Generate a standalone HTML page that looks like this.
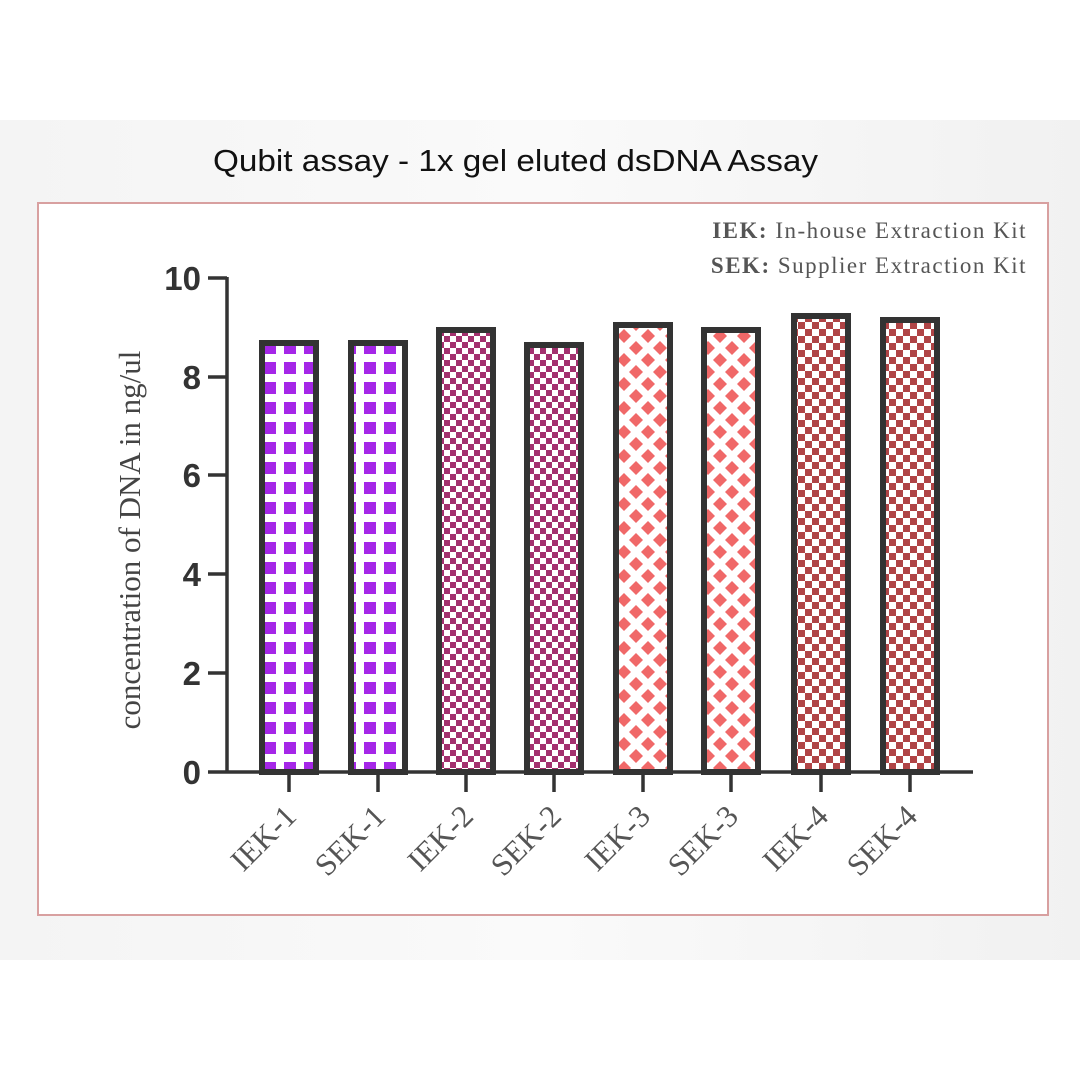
<!DOCTYPE html>
<html><head><meta charset="utf-8"><style>
html,body{margin:0;padding:0;background:#fff;}
</style></head><body>
<svg width="1080" height="1080" viewBox="0 0 1080 1080" xmlns="http://www.w3.org/2000/svg">
<defs>
<linearGradient id="bg" x1="0" x2="1" y1="0" y2="0">
<stop offset="0" stop-color="#f4f4f4"/><stop offset="0.5" stop-color="#fafafa"/><stop offset="1" stop-color="#f1f1f1"/>
</linearGradient>
<pattern id="p1" patternUnits="userSpaceOnUse" width="20" height="20" x="262" y="0">
<rect width="20" height="20" fill="#fff"/><rect x="2" y="2" width="12" height="12" fill="#a526e8"/>
</pattern>
<pattern id="p2" patternUnits="userSpaceOnUse" width="12" height="12">
<rect width="12" height="12" fill="#fff"/><rect width="6" height="6" fill="#a3306e"/><rect x="6" y="6" width="6" height="6" fill="#a3306e"/>
</pattern>
<pattern id="p3" patternUnits="userSpaceOnUse" width="24" height="24">
<rect width="24" height="24" fill="#fff"/>
<polygon points="12,5 19,12 12,19 5,12" fill="#f06868"/>
<polygon points="0,-7 7,0 0,7 -7,0" fill="#f06868"/>
<polygon points="24,-7 31,0 24,7 17,0" fill="#f06868"/>
<polygon points="0,17 7,24 0,31 -7,24" fill="#f06868"/>
<polygon points="24,17 31,24 24,31 17,24" fill="#f06868"/>
</pattern>
<pattern id="p4" patternUnits="userSpaceOnUse" width="14" height="14">
<rect width="14" height="14" fill="#fff"/><rect width="7" height="7" fill="#b04446"/><rect x="7" y="7" width="7" height="7" fill="#b04446"/>
</pattern>
</defs>
<rect x="0" y="120" width="1080" height="840" fill="url(#bg)"/>
<text x="213" y="171" textLength="605" lengthAdjust="spacingAndGlyphs" font-family="Liberation Sans, sans-serif" font-size="31" fill="#111">Qubit assay - 1x gel eluted dsDNA Assay</text>
<rect x="38" y="203" width="1010" height="712" fill="#fff" stroke="#d8a0a0" stroke-width="2"/>
<text x="1027" y="238" text-anchor="end" font-family="Liberation Serif, serif" font-size="23" fill="#555" letter-spacing="1.5"><tspan font-weight="bold">IEK:</tspan> In-house Extraction Kit</text>
<text x="1027" y="273" text-anchor="end" font-family="Liberation Serif, serif" font-size="23" fill="#555" letter-spacing="1.5"><tspan font-weight="bold">SEK:</tspan> Supplier Extraction Kit</text>
<g stroke="#333" stroke-width="3.5" fill="none">
<line x1="227" y1="277" x2="227" y2="773"/>
<line x1="208" y1="772" x2="973" y2="772"/>
<line x1="208" y1="278" x2="227" y2="278"/>
<line x1="208" y1="377" x2="227" y2="377"/>
<line x1="208" y1="475" x2="227" y2="475"/>
<line x1="208" y1="574" x2="227" y2="574"/>
<line x1="208" y1="673" x2="227" y2="673"/>
<line x1="289" y1="772" x2="289" y2="792"/>
<line x1="378" y1="772" x2="378" y2="792"/>
<line x1="466" y1="772" x2="466" y2="792"/>
<line x1="554" y1="772" x2="554" y2="792"/>
<line x1="643" y1="772" x2="643" y2="792"/>
<line x1="731" y1="772" x2="731" y2="792"/>
<line x1="821" y1="772" x2="821" y2="792"/>
<line x1="910" y1="772" x2="910" y2="792"/>
</g>
<g font-family="Liberation Sans, sans-serif" font-weight="bold" font-size="33" fill="#333" text-anchor="end">
<text x="201" y="290">10</text><text x="201" y="389">8</text><text x="201" y="487">6</text><text x="201" y="586">4</text><text x="201" y="685">2</text><text x="201" y="784">0</text>
</g>
<text transform="translate(140,540) rotate(-90)" text-anchor="middle" font-family="Liberation Serif, serif" font-size="31" fill="#444">concentration of DNA in ng/ul</text>
<g stroke="#333" stroke-width="6">
<rect x="262" y="343" width="54" height="429" fill="url(#p1)"/>
<rect x="351" y="343" width="54" height="429" fill="url(#p1)"/>
<rect x="439" y="330" width="54" height="442" fill="url(#p2)"/>
<rect x="527" y="345" width="54" height="427" fill="url(#p2)"/>
<rect x="616" y="325" width="54" height="447" fill="url(#p3)"/>
<rect x="704" y="330" width="54" height="442" fill="url(#p3)"/>
<rect x="794" y="316" width="54" height="456" fill="url(#p4)"/>
<rect x="883" y="320" width="54" height="452" fill="url(#p4)"/>
</g>
<g font-family="Liberation Serif, serif" font-size="31" fill="#555" text-anchor="end">
<text transform="translate(298,818) rotate(-45)">IEK-1</text>
<text transform="translate(387,818) rotate(-45)">SEK-1</text>
<text transform="translate(475,818) rotate(-45)">IEK-2</text>
<text transform="translate(563,818) rotate(-45)">SEK-2</text>
<text transform="translate(652,818) rotate(-45)">IEK-3</text>
<text transform="translate(740,818) rotate(-45)">SEK-3</text>
<text transform="translate(830,818) rotate(-45)">IEK-4</text>
<text transform="translate(919,818) rotate(-45)">SEK-4</text>
</g>
</svg>
</body></html>
